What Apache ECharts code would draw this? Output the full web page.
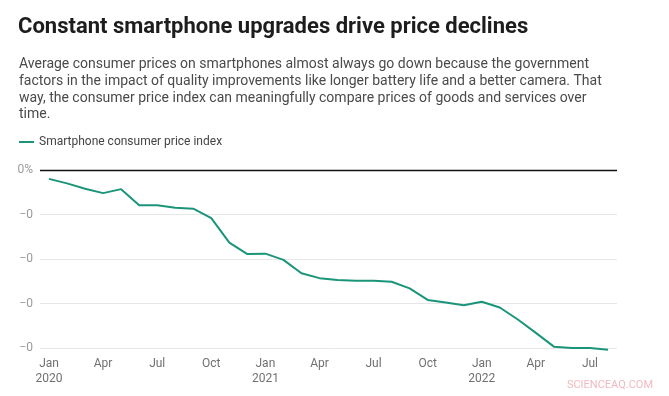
<!DOCTYPE html>
<html>
<head>
<meta charset="utf-8">
<script src="https://cdn.jsdelivr.net/npm/echarts@6/dist/echarts.min.js"></script>
<style>
  html, body { margin: 0; padding: 0; background: #fff; }
  #chart { width: 669px; height: 396px; }
</style>
</head>
<body>
<div id="chart"></div>
<script>
// --- Data ---
const months = [
  "Jan\n2020", "Feb", "Mar", "Apr", "May", "Jun", "Jul", "Aug", "Sep", "Oct", "Nov", "Dec",
  "Jan\n2021", "Feb", "Mar", "Apr", "May", "Jun", "Jul", "Aug", "Sep", "Oct", "Nov", "Dec",
  "Jan\n2022", "Feb", "Mar", "Apr", "May", "Jun", "Jul", "Aug"
];

// Change in smartphone CPI (fraction)
const smartphoneCpi = [
  -0.020, -0.030, -0.042, -0.052, -0.043, -0.079, -0.079, -0.085, -0.087, -0.108, -0.163, -0.189,
  -0.188, -0.202, -0.232, -0.243, -0.247, -0.249, -0.249, -0.251, -0.266, -0.292, -0.298, -0.304,
  -0.296, -0.309, -0.336, -0.366, -0.397, -0.400, -0.400, -0.404
];

// Y tick labels as printed in the source (0, -0.1, -0.2, -0.3, -0.4)
const yTickLabels = ["0%", "\u22120", "\u22120", "\u22120", "\u22120"];

const titleText = "Constant smartphone upgrades drive price declines";
const subtitleText =
  "Average consumer prices on smartphones almost always go down because the government\n" +
  "factors in the impact of quality improvements like longer battery life and a better camera. That\n" +
  "way, the consumer price index can meaningfully compare prices of goods and services over\n" +
  "time.";
const seriesName = "Smartphone consumer price index";

// --- Chart ---
const chart = echarts.init(document.getElementById("chart"), null, { renderer: "canvas" });

chart.setOption({
  animation: false,
  textStyle: { fontFamily: "Roboto" },
  title: [
    {
      text: titleText,
      left: 13,
      top: 11,
      textStyle: { fontFamily: "Roboto", fontSize: 22, fontWeight: "bold", color: "#1d1d1d" }
    },
    {
      text: subtitleText,
      left: 14,
      top: 51,
      textStyle: { fontFamily: "Roboto", fontSize: 14, fontWeight: "normal", color: "#4a4a4a", lineHeight: 16.8 }
    }
  ],
  legend: {
    left: 14,
    top: 131,
    icon: "rect",
    itemWidth: 15,
    itemHeight: 2,
    textStyle: { fontFamily: "Roboto", fontSize: 12, color: "#444" },
    data: [seriesName]
  },
  grid: { left: 40, right: 52, top: 170, bottom: 48, containLabel: false },
  xAxis: {
    type: "category",
    data: months,
    boundaryGap: true,
    axisLine: { show: false },
    axisTick: { show: false },
    axisLabel: {
      interval: 2,
      margin: 8,
      color: "#707070",
      fontSize: 12,
      lineHeight: 15,
      fontFamily: "Roboto"
    }
  },
  yAxis: {
    type: "value",
    min: -0.4,
    max: 0,
    interval: 0.1,
    axisLine: { show: false },
    axisTick: { show: false },
    splitLine: { lineStyle: { color: "#e6e6e6", width: 1 } },
    axisLabel: {
      margin: 7,
      color: "#9a9a9a",
      fontSize: 12,
      fontFamily: "Roboto",
      formatter: (v) => yTickLabels[Math.round(-v * 10)]
    }
  },
  graphic: [
    {
      type: "text",
      right: 16,
      bottom: 5,
      style: { text: "SCIENCEAQ.COM", fill: "#f2b8c0", font: "11px Roboto" }
    }
  ],
  series: [
    {
      name: seriesName,
      type: "line",
      data: smartphoneCpi,
      showSymbol: false,
      clip: false,
      color: "#1a957a",
      lineStyle: { width: 2, color: "#1a957a" },
      markLine: {
        silent: true,
        symbol: "none",
        label: { show: false },
        lineStyle: { color: "#111", type: "solid", width: 1.3 },
        data: [{ yAxis: 0 }]
      }
    }
  ]
});
</script>
</body>
</html>
